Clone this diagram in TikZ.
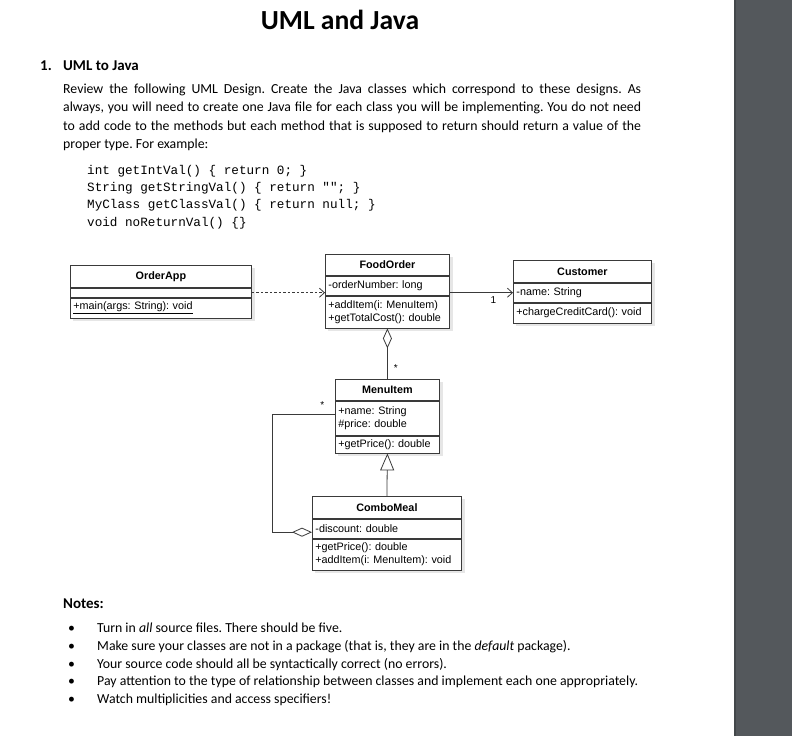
\documentclass[tikz,border=0pt]{standalone}
\usepackage{fontspec}
\setmainfont{Carlito}
\newfontfamily\umlfont{Liberation Sans}
\newfontfamily\codefont{Liberation Mono}
\usetikzlibrary{arrows.meta,backgrounds}
\definecolor{PanelGrey}{HTML}{54585C}
\definecolor{PanelEdge}{HTML}{43474A}
\definecolor{BoxLine}{HTML}{3A3A3A}
\definecolor{ShadowGrey}{HTML}{E6E6E6}
\frenchspacing

\tikzset{
  classhead/.style={draw=BoxLine, fill=white, line width=0.8pt, anchor=north west, inner xsep=3pt, inner ysep=0pt,
    align=center, font=\umlfont\bfseries\fontsize{10.8}{13}\selectfont},
  compart/.style={draw=BoxLine, fill=white, line width=0.8pt, anchor=north west, inner xsep=3pt, inner ysep=0pt,
    align=left, font=\umlfont\fontsize{10.8}{13}\selectfont},
  mult/.style={inner sep=1pt, font=\umlfont\fontsize{10}{12}\selectfont},
  link/.style={draw=BoxLine, line width=0.8pt},
  bodytext/.style={anchor=base west, inner sep=0pt, font=\fontsize{13.8}{18.5}\selectfont},
  boldtext/.style={anchor=base west, inner sep=0pt, font=\bfseries\fontsize{15}{18}\selectfont},
  codetext/.style={anchor=base west, inner sep=0pt, font=\codefont\fontsize{12.65}{17}\selectfont},
}

\begin{document}
\begin{tikzpicture}[x=1pt,y=-1pt]
  \useasboundingbox (0,0) rectangle (792,736);
  % side panel
  \fill[PanelGrey] (734,0) rectangle (792,736);
  \fill[PanelEdge] (734,0) rectangle (736,736);

  % heading and text
  \node[anchor=base, inner sep=0pt, font=\bfseries\fontsize{27.6}{30}\selectfont] (title) at (340,29) {UML and Java};
  \node[boldtext] (secnum) at (40,70) {1.};
  \node[boldtext] (sec) at (63,70) {UML to Java};

  \node[bodytext] (para1) at (63,93) {\makebox[578pt][s]{Review the following UML Design. Create the Java classes which correspond to these designs. As}};
  \node[bodytext] (para2) at (63,111.5) {\makebox[578pt][s]{always, you will need to create one Java file for each class you will be implementing. You do not need}};
  \node[bodytext] (para3) at (63,130) {\makebox[578pt][s]{to add code to the methods but each method that is supposed to return should return a value of the}};
  \node[bodytext] (para4) at (63,148.5) {proper type. For example:};

  \node[codetext] (code1) at (87,174) {int getIntVal() \{ return 0; \}};
  \node[codetext] (code2) at (87,191.5) {String getStringVal() \{ return ""; \}};
  \node[codetext] (code3) at (87,208.5) {MyClass getClassVal() \{ return null; \}};
  \node[codetext] (code4) at (87,226) {void noReturnVal() \{\}};

  % OrderApp
  \node[classhead, text width=175pt, minimum height=22pt] (oa-head) at (70,265) {OrderApp};
  \node[compart, text width=175pt, minimum height=9pt] (oa-attr) at (oa-head.south west) {};
  \node[compart, text width=175pt, minimum height=20pt] (oa-ops) at (oa-attr.south west) {\underline{+main(args: String): void}};

  % FoodOrder
  \node[classhead, text width=118pt, minimum height=21pt] (fo-head) at (325,254) {FoodOrder};
  \node[compart, text width=118pt, minimum height=19pt] (fo-attr) at (fo-head.south west) {-orderNumber: long};
  \node[compart, text width=118pt, minimum height=32pt] (fo-ops) at (fo-attr.south west) {+addItem(i: MenuItem)\\+getTotalCost(): double};

  % Customer
  \node[classhead, text width=132pt, minimum height=22pt] (cu-head) at (513,260) {Customer};
  \node[compart, text width=132pt, minimum height=19pt] (cu-attr) at (cu-head.south west) {-name: String};
  \node[compart, text width=132pt, minimum height=20pt] (cu-ops) at (cu-attr.south west) {+chargeCreditCard(): void};

  % MenuItem
  \node[classhead, text width=98pt, minimum height=21pt] (mi-head) at (335,379) {MenuItem};
  \node[compart, text width=98pt, minimum height=34pt] (mi-attr) at (mi-head.south west) {+name: String\\\#price: double};
  \node[compart, text width=98pt, minimum height=17pt] (mi-ops) at (mi-attr.south west) {+getPrice(): double};

  % ComboMeal
  \node[classhead, text width=143pt, minimum height=22pt] (cm-head) at (312,496) {ComboMeal};
  \node[compart, text width=143pt, minimum height=19pt] (cm-attr) at (cm-head.south west) {-discount: double};
  \node[compart, text width=143pt, minimum height=31pt] (cm-ops) at (cm-attr.south west) {+getPrice(): double\\+addItem(i: MenuItem): void};

  % shadows
  \begin{scope}[on background layer]
    \foreach \c in {oa,fo,cu,mi,cm}
      \fill[ShadowGrey] ([shift={(3,3)}]\c-head.north west) rectangle ([shift={(3,3)}]\c-ops.south east);
  \end{scope}

  % relations
  \draw[link, dash pattern=on 2.5pt off 2pt, -{Straight Barb[length=5pt,width=9pt]}] (oa-attr.east) -- (oa-attr.east -| fo-attr.west);
  \draw[link, -{Straight Barb[length=5pt,width=9pt]}] (fo-attr.east |- cu-attr.west) -- node[mult, pos=0.69, below=3pt] (m-cust) {1} (cu-attr.west);
  \draw[link, {Diamond[open,length=20pt,width=9pt]}-] (fo-ops.south) -- node[mult, pos=0.78, right=5pt] (m-items) {*} (mi-head.north);
  \draw[link, {Triangle[open,length=17pt,width=14pt]}-] (mi-ops.south) -- (cm-head.north);
  \draw[link, -{Diamond[open,length=20pt,width=9pt]}] ([yshift=4pt]mi-attr.west) -- node[mult, pos=0.2, above=4pt] (m-combo) {*} ++(-63,0) |- ([yshift=-3.5pt]cm-attr.west);

  % notes
  \node[boldtext] (notes) at (63,608) {Notes:};
  \foreach \y [count=\i] in {632,650,668,685.5,703}
    \node[bodytext] (bullet\i) at (68,\y) {\textbullet};
  \node[bodytext] (note1) at (97,632) {Turn in \textit{all} source files. There should be five.};
  \node[bodytext] (note2) at (97,650) {Make sure your classes are not in a package (that is, they are in the \textit{default} package).};
  \node[bodytext] (note3) at (97,668) {Your source code should all be syntactically correct (no errors).};
  \node[bodytext] (note4) at (97,685.5) {Pay attention to the type of relationship between classes and implement each one appropriately.};
  \node[bodytext] (note5) at (97,703) {Watch multiplicities and access specifiers!};
\end{tikzpicture}
\end{document}
